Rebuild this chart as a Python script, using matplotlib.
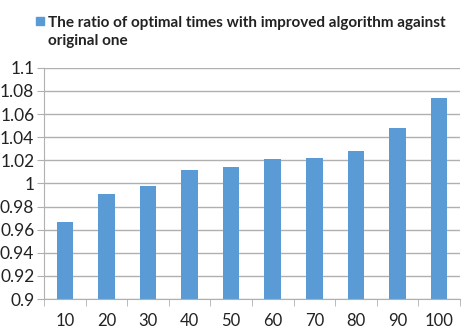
import numpy as np
import matplotlib
matplotlib.use("Agg")
import matplotlib.pyplot as plt
import matplotlib.patches as mpatches
from matplotlib.ticker import FixedLocator, FuncFormatter

# values
categories = ["10", "20", "30", "40", "50", "60", "70", "80", "90", "100"]
ratios = [0.967, 0.991, 0.998, 1.012, 1.014, 1.021, 1.022, 1.028, 1.048, 1.074]
series_label = "The ratio of optimal times with improved algorithm against\noriginal one"

bar_color = "#5B9BD5"
grid_color = "#B0B0B0"
text_color = "#222222"

plt.rcParams["font.family"] = ["Lato", "DejaVu Sans"]

fig = plt.figure(figsize=(4.74, 3.36), dpi=100)
ax = fig.add_axes([0.093, 0.110, 0.877, 0.688])

ax.bar(categories, ratios, width=0.4, color=bar_color, zorder=2)

ax.set_ylim(0.9, 1.1)
ax.set_xlim(-0.5, len(categories) - 0.5)
yticks = np.round(np.arange(0.9, 1.1001, 0.02), 2)
ax.set_yticks(yticks)
ax.yaxis.set_major_formatter(FuncFormatter(lambda v, _: f"{v:g}"))
ax.yaxis.grid(True, color=grid_color, linewidth=1, zorder=0)

# category boundary ticks like in a spreadsheet chart
ax.xaxis.set_minor_locator(FixedLocator(np.arange(-0.5, len(categories), 1.0)))
ax.tick_params(axis="x", which="major", length=0, pad=10, labelsize=12, colors=text_color)
ax.tick_params(axis="x", which="minor", length=5, color=grid_color, direction="out")
ax.tick_params(axis="y", length=5, color=grid_color, labelsize=12.5, colors=text_color, pad=2)

for side in ["top", "right"]:
    ax.spines[side].set_visible(False)
for side in ["left", "bottom"]:
    ax.spines[side].set_color(grid_color)

# legend entry: square key plus a wrapped bold label
key = mpatches.Rectangle((36 / 474, 1 - 25 / 336), 8 / 474, 8 / 336,
                         transform=fig.transFigure, color=bar_color)
fig.add_artist(key)
fig.text(48 / 474, 1 - 16 / 336, series_label, ha="left", va="top",
         fontsize=11, fontweight="bold", color=text_color, linespacing=1.35)

fig.savefig("out.png", dpi=100)
